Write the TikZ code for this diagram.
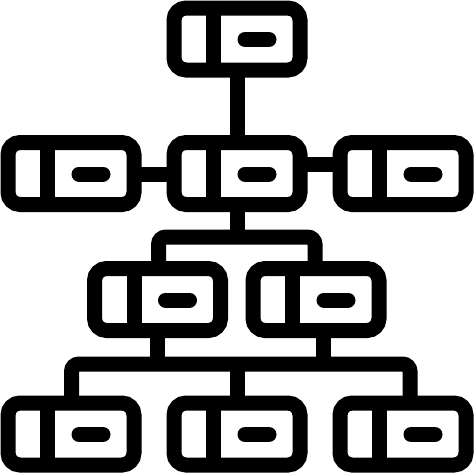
\documentclass[tikz,border=0pt]{standalone}
\begin{document}
\begin{tikzpicture}[x=1pt,y=-1pt,line width=15pt,
  box/.style={draw, line width=15pt, rounded corners=12pt, minimum width=126pt, minimum height=62pt, inner sep=0pt, outer sep=0pt},
  link/.style={draw, line width=15pt},
  elbow/.style={draw, line width=15pt, rounded corners=7.5pt},
  pill/.style={draw, line width=15pt, line cap=round}]
\fill[white] (0,0) rectangle (474,474);
\useasboundingbox (0,0) rectangle (474,474);
% boxes
\node[box] (top) at (237,39) {};
\node[box] (ml) at (71,173.5) {};
\node[box] (mc) at (237,173.5) {};
\node[box] (mr) at (403,173.5) {};
\node[box] (tl) at (157.5,299.5) {};
\node[box] (tr) at (316,299.5) {};
\node[box] (bl) at (71,434) {};
\node[box] (bc) at (237,434) {};
\node[box] (br) at (403,434) {};
% inner details
\foreach \n in {top,ml,mc,mr,tl,tr,bl,bc,br} {
  \draw[link] ([xshift=39.5pt]\n.north west) -- ([xshift=39.5pt]\n.south west);
  \draw[pill] ([xshift=71pt,yshift=-0.5pt]\n.west) -- ([xshift=95pt,yshift=-0.5pt]\n.west);
}
% connectors
\draw[link] (top.south) -- (mc.north);
\draw[link] ([yshift=-0.5pt]ml.east) -- ([yshift=-0.5pt]mc.west);
\draw[link] ([yshift=9.5pt]mc.east) -- ([yshift=9.5pt]mr.west);
\coordinate (b1) at (237,237);
\draw[link] (mc.south) -- (b1);
\draw[elbow] ([xshift=1pt]tl.north) |- (b1) -| ([xshift=-1pt]tr.north);
\coordinate (b2) at (237,364);
\coordinate (tlo) at (tl.south);
\coordinate (tro) at ([xshift=7pt]tr.south);
\draw[link] (tlo) -- (tlo |- b2);
\draw[link] (tro) -- (tro |- b2);
\coordinate (bro) at ([xshift=7pt]br.north);
\draw[elbow] ([xshift=0.5pt]bl.north) |- (b2) -| (bro);
\draw[link] (bc.north) -- (b2);
\end{tikzpicture}
\end{document}
